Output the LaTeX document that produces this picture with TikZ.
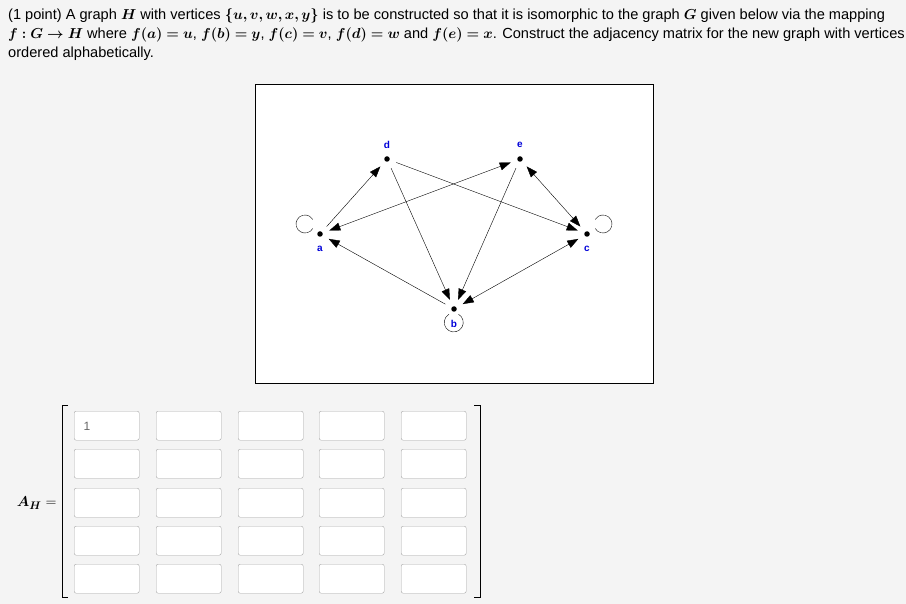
\documentclass[tikz,border=0pt]{standalone}
\usepackage{amsmath,bm}
\usepackage{fontspec}
\setmainfont{Liberation Sans}
\usetikzlibrary{arrows.meta}
\definecolor{pagebg}{HTML}{F4F4F4}
\begin{document}
\begin{tikzpicture}[x=1pt,y=-1pt,
  vtx/.style={circle,fill=black,inner sep=0pt,minimum size=5.5pt},
  lbl/.style={text=blue!85!black,font=\bfseries\fontsize{10}{11}\selectfont},
  arr/.style={-{Triangle[length=11pt,width=8pt]},shorten >=7pt,shorten <=7pt},
  barr/.style={{Triangle[length=11pt,width=8pt]}-{Triangle[length=11pt,width=8pt]},shorten >=7pt,shorten <=7pt},
  cell/.style={draw=black!35,fill=white,rounded corners=2pt,minimum width=65pt,minimum height=29pt,anchor=north west},
  txt/.style={anchor=base west,inner sep=0pt,font=\fontsize{14.6}{17}\selectfont}]
\fill[pagebg] (0,0) rectangle (906,604);
\useasboundingbox (0,0) rectangle (906,604);
\node[txt] (t1) at (8,20) {(1 point) A graph $\bm{H}$ with vertices $\bm{\{u,v,w,x,y\}}$ is to be constructed so that it is isomorphic to the graph $\bm{G}$ given below via the mapping};
\node[txt] (t2) at (8,39) {$\bm{f:G\to H}$ where $\bm{f(a)=u}$, $\bm{f(b)=y}$, $\bm{f(c)=v}$, $\bm{f(d)=w}$ and $\bm{f(e)=x}$. Construct the adjacency matrix for the new graph with vertices};
\node[txt] (t3) at (8,58) {ordered alphabetically.};
\node[draw,fill=white,anchor=north west,minimum width=398pt,minimum height=299pt,inner sep=0pt] (frame) at (255,84) {};
\node[vtx] (a) at (320,234) {};
\node[vtx] (d) at (387,159) {};
\node[vtx] (e) at (520,159) {};
\node[vtx] (c) at (587,234) {};
\node[vtx] (b) at (454,309) {};
\node[lbl] (la) at (320,249) {a};
\node[lbl] (ld) at (387,145) {d};
\node[lbl] (le) at (520,145) {e};
\node[lbl] (lc) at (587,249) {c};
\node[lbl] (lb) at (454,324) {b};
\draw (312.8,228.5) arc[start angle=30,end angle=330,radius=9];
\draw (595.2,228.5) arc[start angle=150,end angle=-150,radius=9];
\draw (458.5,314.2) arc[start angle=300,end angle=600,radius=9.5];
\draw[arr] (a) -- (d);
\draw[barr] (a) -- (e);
\draw[arr] (d) -- (c);
\draw[arr] (d) -- (b);
\draw[arr] (e) -- (b);
\draw[barr] (e) -- (c);
\draw[barr] (b) -- (c);
\draw[arr] (b) -- (a);
\foreach \i/\x in {1/74,2/156,3/238,4/319,5/401}{
  \foreach \j/\y in {1/411,2/449,3/488,4/526,5/564}{
    \node[cell] (m\j\i) at (\x,\y) {};
  }}
\node[anchor=west,text=black!60,font=\fontsize{12}{14}\selectfont] (one) at (80,426) {1};
\draw (68,405) -- (62,405) -- (62,597) -- (68,597);
\draw (474,405) -- (480,405) -- (480,597) -- (474,597);
\node[anchor=east,font=\fontsize{15}{17}\selectfont] (ah) at (60,503) {$\bm{A_H} =$};
\end{tikzpicture}
\end{document}
